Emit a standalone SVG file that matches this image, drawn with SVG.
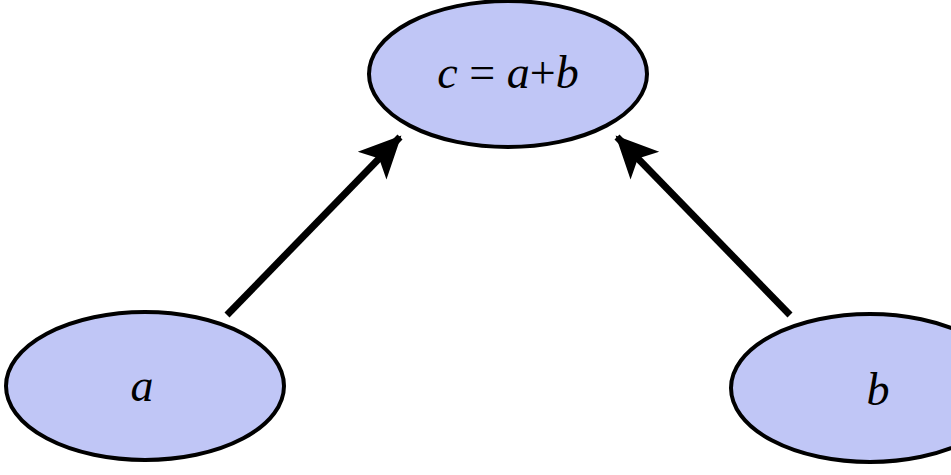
<svg xmlns="http://www.w3.org/2000/svg" width="951" height="475" viewBox="0 0 951 475">
<style>
.n{fill:#c0c6f6;stroke:#000;stroke-width:4}
.t{font-family:"Liberation Serif",serif;font-style:italic;font-size:46px;text-anchor:middle}
.e{stroke:#000;stroke-width:7;fill:none;marker-end:url(#ah)}
</style>
<defs><marker id="ah" markerUnits="userSpaceOnUse" markerWidth="50" markerHeight="50" refX="40" refY="20" orient="auto" viewBox="0 0 50 40"><path d="M0,0 L42,20 L0,40 L10,20 Z" fill="#000"/></marker></defs>
<rect width="951" height="475" fill="#fff"/>
<g id="edges">
<line class="e" x1="227" y1="315" x2="400" y2="137"/>
<line class="e" x1="790" y1="315" x2="617" y2="137"/>
</g>
<g id="c"><ellipse class="n" cx="508" cy="74" rx="139" ry="73"/><text class="t" x="508" y="88">c <tspan font-style="normal">=</tspan> a<tspan font-style="normal">+</tspan>b</text></g>
<g id="a"><ellipse class="n" cx="145" cy="386" rx="139" ry="74"/><text class="t" x="142" y="401">a</text></g>
<g id="b"><ellipse class="n" cx="870" cy="388" rx="139" ry="74"/><text class="t" x="878" y="405">b</text></g>
</svg>
